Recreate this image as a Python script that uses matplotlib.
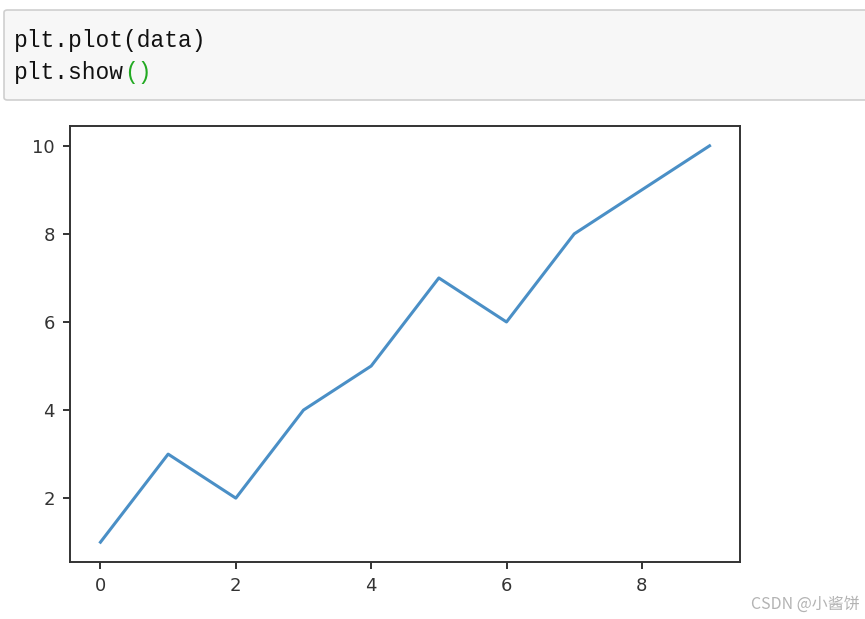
import matplotlib
matplotlib.use("Agg")
import matplotlib.pyplot as plt
from matplotlib.patches import FancyBboxPatch

data = [1, 3, 2, 4, 5, 7, 6, 8, 9, 10]
code_line1 = "plt.plot(data)"
code_line2 = "plt.show"
code_parens = "()"
watermark = "CSDN @小酱饼"

W, H = 865, 619
fig = plt.figure(figsize=(W / 100, H / 100), dpi=100)
fig.patch.set_facecolor("white")

# code cell box
box = FancyBboxPatch((4 / W, 1 - 100 / H), (W + 10) / W, 90 / H,
                     boxstyle="round,pad=0,rounding_size=0.004",
                     transform=fig.transFigure, facecolor="#f7f7f7",
                     edgecolor="#cfcfcf", linewidth=1.2)
fig.patches.append(box)

mono = "Liberation Mono"
fs_code = 16.5
x0 = 14
char_w = 0.6 * fs_code * 100 / 72
fig.text(x0 / W, 1 - 41 / H, code_line1, family=mono, fontsize=fs_code,
         color="#111111", va="center", ha="left")
fig.text(x0 / W, 1 - 73 / H, code_line2, family=mono, fontsize=fs_code,
         color="#111111", va="center", ha="left")
fig.text((x0 + char_w * len(code_line2)) / W, 1 - 73 / H, code_parens, family=mono,
         fontsize=fs_code, color="#22aa22", va="center", ha="left")

ax = fig.add_axes([70 / W, 1 - 562 / H, 670 / W, 436 / H])
ax.plot(data, color="#4a8fc6", linewidth=2.2)
ax.set_xticks([0, 2, 4, 6, 8])
ax.set_yticks([2, 4, 6, 8, 10])
for s in ax.spines.values():
    s.set_color("#333333")
    s.set_linewidth(1.4)
ax.tick_params(labelsize=13, colors="#333333", length=5, width=1.4, pad=6)
for lab in ax.get_xticklabels() + ax.get_yticklabels():
    lab.set_color("#333333")

fig.text(860 / W, 1 - 604 / H, watermark, family=["Noto Sans CJK SC", "DejaVu Sans"],
         fontsize=11.5, color="#b3b3b3", ha="right", va="center")

fig.savefig("out.png", dpi=100)
